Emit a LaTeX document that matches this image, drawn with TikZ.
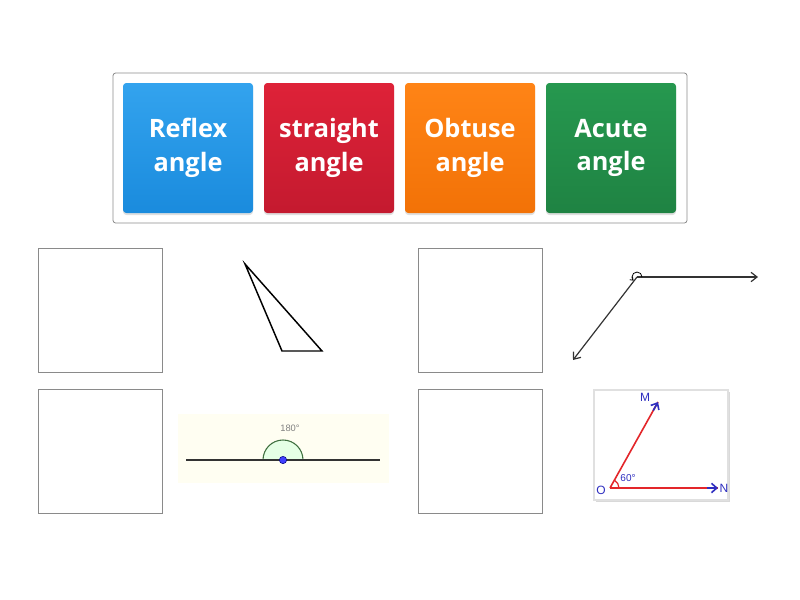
\documentclass[tikz,border=0pt]{standalone}
\usepackage{fontspec}
\setmainfont{Open Sans}
\newfontfamily\figfont{Liberation Sans}
\usetikzlibrary{arrows.meta,shadows,calc}
\definecolor{reflexT}{HTML}{33A3EE}
\definecolor{reflexB}{HTML}{1A8BDD}
\definecolor{straightT}{HTML}{DE2238}
\definecolor{straightB}{HTML}{C41A2F}
\definecolor{obtuseT}{HTML}{FF8416}
\definecolor{obtuseB}{HTML}{F27207}
\definecolor{acuteT}{HTML}{26984F}
\definecolor{acuteB}{HTML}{1F8343}
\definecolor{slotgray}{HTML}{8A8A8A}
\definecolor{figred}{HTML}{E3262A}
\definecolor{figblue}{HTML}{2E2EC0}
\definecolor{arcgreen}{HTML}{3F6F3F}
\tikzset{
    every node/.style={inner sep=0pt},
    tile/.style={rectangle, rounded corners=2.5pt, minimum width=97.5pt, minimum height=97.5pt,
        text=white, align=center, font=\fontsize{19}{25}\selectfont\bfseries,
        drop shadow={shadow xshift=0pt, shadow yshift=-1.5pt, opacity=.25}},
    slot/.style={rectangle, draw=slotgray, line width=.6pt, minimum width=93pt, minimum height=93pt},
    ray/.style={line width=.9pt, draw=black!80, -{Straight Barb[length=4.5pt,width=7pt]}},
}

\begin{document}
\begin{tikzpicture}[x=.75pt, y=-.75pt]
        \useasboundingbox (0,0) rectangle (800,600);
        \node (frame) [rectangle, draw=black!45, line width=.6pt, rounded corners=2pt,
            minimum width=430.5pt, minimum height=112.5pt] at (400,148) {};
        \node (reflex) [tile, top color=reflexT, bottom color=reflexB] at (188,148) {Reflex\\angle};
        \node (straight) [tile, top color=straightT, bottom color=straightB] at (329,148) {straight\\angle};
        \node (obtuse) [tile, top color=obtuseT, bottom color=obtuseB] at (470,148) {Obtuse\\angle};
        \node (acute) [tile, top color=acuteT, bottom color=acuteB] at (611,148) {Acute\\angle};
        \node (box1) [slot] at (100,310) {};
        \node (box2) [slot] at (480.5,310) {};
        \node (box3) [slot] at (100,451) {};
        \node (box4) [slot] at (480.5,451) {};
        % triangle
        \coordinate (t1) at (245,264);
        \coordinate (t2) at (282,351);
        \coordinate (t3) at (322,351);
        \draw [line width=1.1pt, line join=miter] (t1) -- (t2) -- (t3) -- cycle;
        % reflex
        \coordinate (rv) at (637,277);
        \coordinate (ra) at (758,277);
        \coordinate (rb) at (573,360);
        \draw [ray] (rv) -- (ra);
        \draw [ray] (rv) -- (rb);
        \draw [line width=.6pt, -{Straight Barb[length=2pt,width=3pt]}] (rv) ++(5,0) arc (0:-226:5);
        % straight
        \fill [yellow!5!white] (178,414) rectangle (389,483);
        \coordinate (sl) at (186,460);
        \coordinate (sr) at (380,460);
        \coordinate (so) at (283,460);
        \draw [fill=green!10, draw=arcgreen, line width=.8pt] (so) ++(20,0) arc (0:-180:20) -- cycle;
        \draw [line width=1pt, black!80] (sl) -- (sr);
        \node (deg180) [text=black!50, font=\figfont\fontsize{7}{8}\selectfont] at (290,428) {180°};
        \node (dot) [circle, fill=blue!75, draw=blue!50!black, line width=.4pt, minimum size=5.5pt] at (so) {};
        % acute
        \node (photo) [rectangle, fill=white, draw=black!12, line width=.8pt, minimum width=100.5pt, minimum height=82.5pt,
            drop shadow={shadow xshift=1.5pt, shadow yshift=-1.5pt, opacity=.3}] at (661,445) {};
        \coordinate (ao) at (610,488);
        \coordinate (am) at (658,402);
        \coordinate (an) at (718,488);
        \draw [figred, line width=1.2pt] (ao) -- (am);
        \draw [figred, line width=1.2pt] (ao) -- (an);
        \draw [figblue, line width=1.2pt, -{Straight Barb[length=4pt,width=7pt]}] ($(ao)!.9!(am)$) -- (am);
        \draw [figblue, line width=1.2pt, -{Straight Barb[length=4pt,width=7pt]}] ($(ao)!.9!(an)$) -- (an);
        \draw [figred, line width=.9pt] (ao) ++(9,0) arc (0:-61:9);
        \node (labM) [text=figblue, font=\figfont\fontsize{9}{10}\selectfont] at (645,397) {M};
        \node (labN) [text=figblue, font=\figfont\fontsize{9}{10}\selectfont] at (724,488) {N};
        \node (labO) [text=figblue, font=\figfont\fontsize{9}{10}\selectfont] at (601,490) {O};
        \node (lab60) [text=figblue, font=\figfont\fontsize{7.5}{8}\selectfont] at (628,478) {60°};
\end{tikzpicture}
\end{document}
